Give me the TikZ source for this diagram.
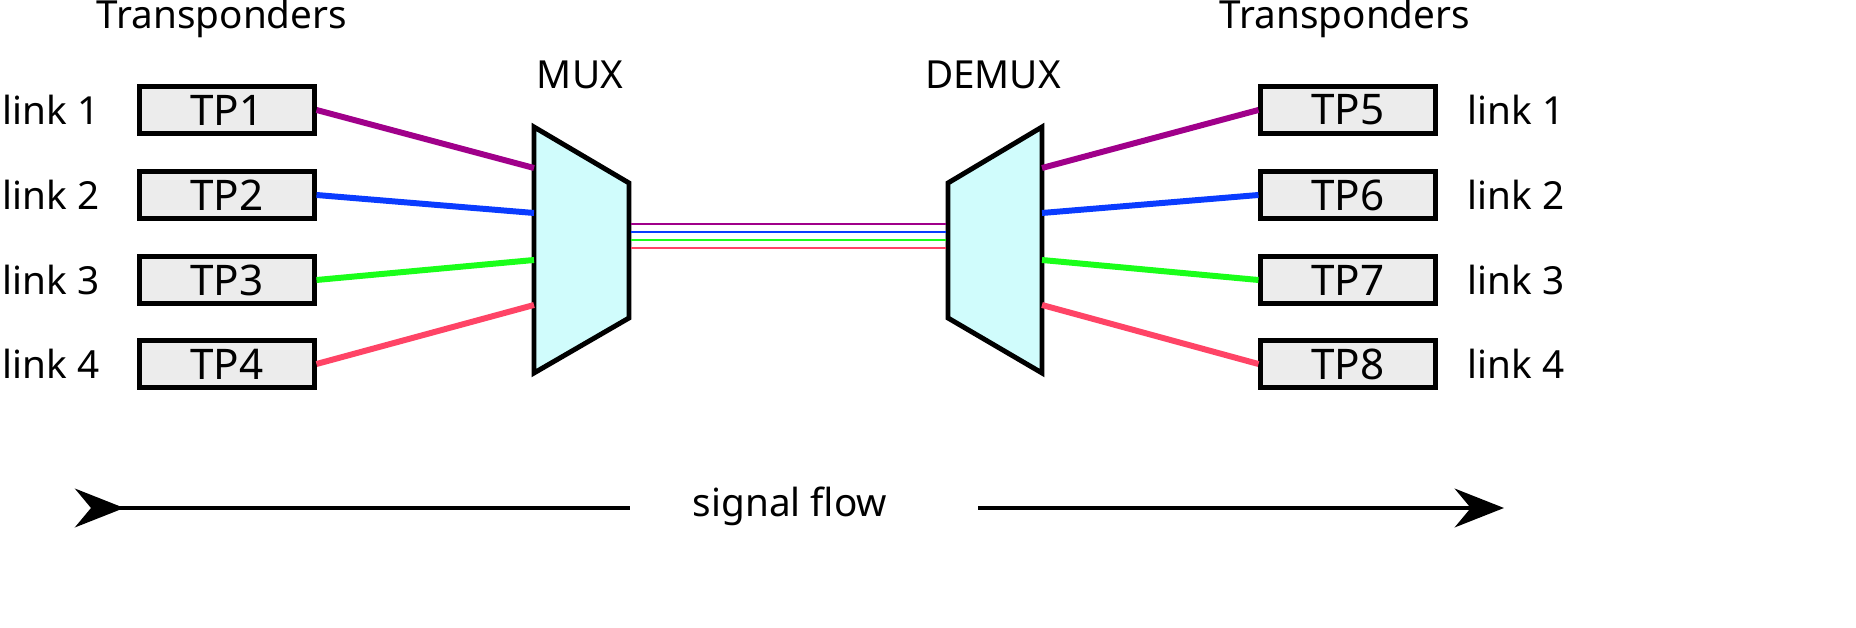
\documentclass[tikz,border=0pt]{standalone}
\usepackage{fontspec}
\setmainfont{Noto Sans}
\usetikzlibrary{arrows.meta}
\definecolor{lpurple}{HTML}{A0008A}
\definecolor{lblue}{HTML}{0A3CFF}
\definecolor{lgreen}{HTML}{1AFF1A}
\definecolor{lred}{HTML}{FF4466}
\definecolor{muxfill}{HTML}{D0FCFC}
\tikzset{>=latex,
  tpbox/.style={draw, line width=1.4pt, fill=gray!15, minimum width=1.74cm, minimum height=0.47cm, inner sep=0pt, font=\fontsize{12}{14}\selectfont},
  linklabel/.style={font=\fontsize{11}{13}\selectfont},
  fiber/.style={line width=1.7pt},
  bus/.style={line width=0.8pt},
  muxshape/.style={draw, line width=1.4pt, fill=muxfill, line join=miter}}
\begin{document}
\begin{tikzpicture}[x=0.01cm,y=-0.01cm]
   \useasboundingbox (0,0) rectangle (1856,628);
   % headers
   \node[linklabel] (tpl) at (222,18) {Transponders};
   \node[linklabel] (tpr) at (1345,18) {Transponders};
   \node[linklabel] (mux) at (580,75) {MUX};
   \node[linklabel] (demux) at (993,75) {DEMUX};

   % transponders
   \foreach \i/\y in {1/110, 2/195, 3/280, 4/364}{
       \node[tpbox] (tp\i) at (227,\y) {TP\i};
       \node[linklabel, anchor=west] (ll\i) at (-10,\y) {link \i};
   }
   \foreach \i/\y in {5/110, 6/195, 7/280, 8/364}{
       \pgfmathtruncatemacro{\k}{\i-4}
       \node[tpbox] (tp\i) at (1348,\y) {TP\i};
       \node[linklabel, anchor=west] (lr\i) at (1455,\y) {link \k};
   }

   % mux and demux
   \draw[muxshape] (534,127) -- (629,183) -- (629,318) -- (534,373) -- cycle;
   \draw[muxshape] (1042,127) -- (948,183) -- (948,318) -- (1042,373) -- cycle;
   \foreach \n/\y in {1/168, 2/213, 3/260, 4/305}{
       \coordinate (mi\n) at (534,\y);
       \coordinate (do\n) at (1042,\y);
   }

   % fibers
   \foreach \i/\c in {1/lpurple, 2/lblue, 3/lgreen, 4/lred}{
       \pgfmathtruncatemacro{\j}{\i+4}
       \draw[fiber, \c] (tp\i.east) -- (mi\i);
       \draw[fiber, \c] (do\i) -- (tp\j.west);
   }
   \foreach \c/\y in {lpurple/224, lblue/232, lgreen/240, lred/248}{
       \coordinate (ba) at (631,\y);
       \coordinate (bb) at (946,\y);
       \draw[bus, \c] (ba) -- (bb);
   }

   % signal flow
   \node[linklabel] (flow) at (790,506) {signal flow};
   \coordinate (fa) at (75,508);
   \coordinate (fb) at (630,508);
   \coordinate (fc) at (978,508);
   \coordinate (fd) at (1504,508);
   \draw[line width=1.2pt, {Stealth[reversed,length=14pt,width=11pt]}-] (fa) -- (fb);
   \draw[line width=1.2pt, -{Stealth[length=14pt,width=11pt]}] (fc) -- (fd);
\end{tikzpicture}
\end{document}
